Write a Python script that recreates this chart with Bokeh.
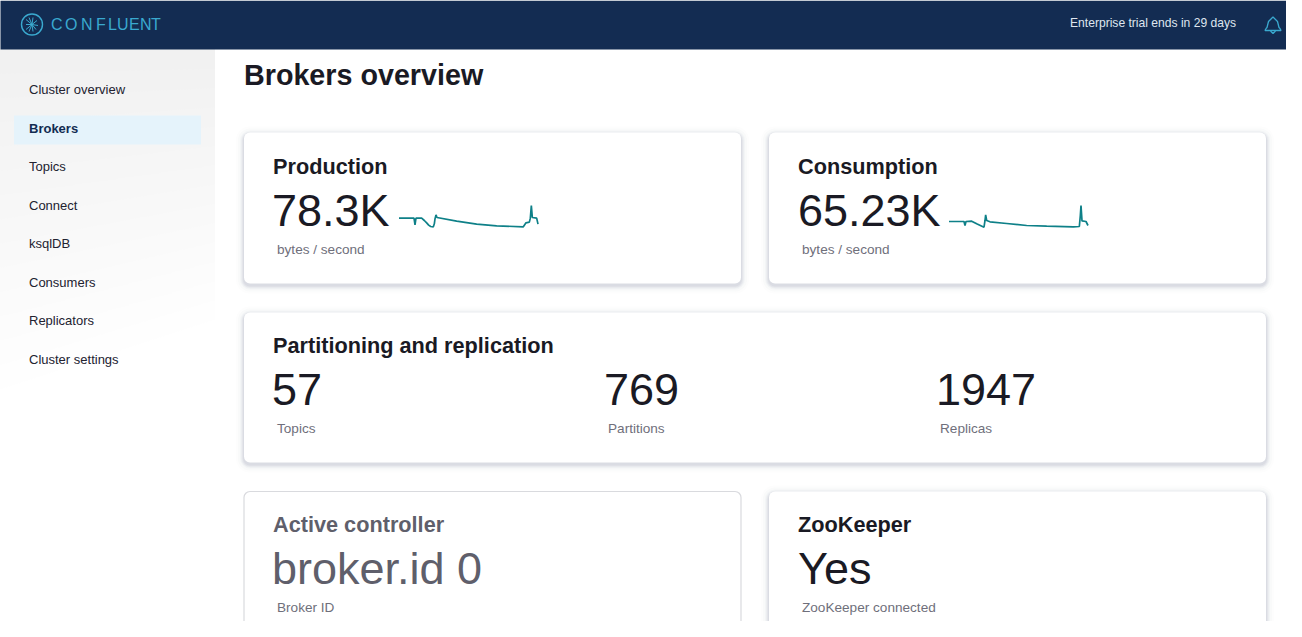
from bokeh.plotting import figure
from bokeh.models import Range1d
from bokeh.core.properties import value
from bokeh.embed import file_html
from bokeh.resources import INLINE

# ---- content / data ----
nav_items = ["Cluster overview", "Brokers", "Topics", "Connect", "ksqlDB", "Consumers", "Replicators", "Cluster settings"]
page_title = "Brokers overview"
trial_text = "Enterprise trial ends in 29 days"
brand_letters = list("CONFLUENT")

production_value = "78.3K"
consumption_value = "65.23K"
rate_unit = "bytes / second"
partition_values = ["57", "769", "1947"]
partition_labels = ["Topics", "Partitions", "Replicas"]

production_t = [27, 72, 75, 78, 95, 103, 110, 116, 122, 130, 133, 135, 138, 141, 200, 260, 320, 400, 408, 418, 421, 424, 427, 440, 444]
production_v = [52, 52, 32, 52, 52, 45, 38, 31, 27, 26, 35, 50, 62, 54, 43, 34, 29, 26, 38, 40, 52, 90, 54, 52, 34]
consumption_t = [27, 72, 75, 78, 95, 110, 132, 135, 137, 140, 150, 200, 260, 320, 400, 418, 421, 423, 426, 438, 444]
consumption_v = [42, 42, 30, 42, 43, 35, 25, 45, 62, 45, 41, 36, 30, 28, 26, 27, 60, 90, 44, 42, 30]

# ---- styling ----
W, H = 1286, 621
XS = 0.5
NAVY = "#132c52"
CYAN = "#3aa9cf"
INK = "#1a1a24"
MUTED = "#6f6f7b"
TEAL = "#0e8088"
SANS = "Liberation Sans"

p = figure(width=W, height=H, output_backend="svg", toolbar_location=None,
           x_range=Range1d(XS, W + XS), y_range=Range1d(H, 0), min_border=0,
           x_axis_type=None, y_axis_type=None, outline_line_color=None,
           background_fill_color="white", border_fill_color="white")
p.grid.visible = False


def text(x, y, s, size, color=INK, bold=False, align="left", font=SANS):
    p.text([x], [y], text=[s], text_font=value(font), text_font_size=f"{size}px", text_color=color,
           text_font_style="bold" if bold else "normal", text_align=align, text_baseline="alphabetic")


# sidebar fading to white
for i in range(14):
    f = i / 14
    p.patch([0, 215, 215, 0], [49, 49, 49 + 270 * (1 - f), 49 + 340 * (1 - f)],
            fill_color="#e2e4ea", fill_alpha=0.03, line_color=None)

# header
p.quad(left=0, right=1302, top=0, bottom=49, fill_color=NAVY, line_color=None)
p.circle([32], [24], radius=10.5, fill_color=None, line_color=CYAN, line_width=1.4)
for dx, dy in [(-6, -5), (-6, 0), (-6, 5), (-3, -7), (-3, 7), (5, -4), (6, 1), (4, 5), (1, -7), (1, 7)]:
    p.line([32, 32 + dx], [24, 24 + dy], line_color=CYAN, line_width=1)
brand_x = [51, 65, 81, 96, 108, 117, 129, 140, 151]
for ch, bx in zip(brand_letters, brand_x):
    text(bx, 24, ch, 16, color=CYAN)
text(1070, 22, trial_text, 12.1, color="#dfe6ef")
p.line([1266, 1267, 1268.5, 1273, 1277.5, 1279, 1280, 1281, 1265, 1266],
       [28, 27, 21, 16.5, 21, 27, 28, 30, 30, 28], line_color=CYAN, line_width=1.3)
p.line([1270.5, 1273, 1275.5], [30.5, 33, 30.5], line_color=CYAN, line_width=1.3)

# navigation
nav_y = [89, 127.5, 165.5, 204.5, 242.5, 281.5, 319.5, 358.5]
p.quad(left=14, right=201, top=115, bottom=144, fill_color="#e5f3fb", line_color=None)
for name, y in zip(nav_items, nav_y):
    sel = name == "Brokers"
    text(29, y, name, 13, color=NAVY if sel else "#222230", bold=sel)

# title
text(244, 74, page_title, 28.7, bold=True)


# cards
def card(l, r, t, b, shadow=True):
    if shadow:
        for g, a in [(8, .012), (6, .02), (4, .03), (3, .04), (2, .05), (1, .06)]:
            p.quad(left=l - g, right=r + g, top=t - g + 2, bottom=b + g + 2, fill_color="#48507a", fill_alpha=a,
                   line_color=None, border_radius=6 + g)
        p.quad(left=l, right=r, top=t, bottom=b, fill_color="white", line_color=None, border_radius=6)
    else:
        p.quad(left=l, right=r, top=t, bottom=b, fill_color="white", line_color="#d9dade", line_width=1.2,
               border_radius=6)


card(244, 741, 132, 283)
card(769, 1266, 132, 283)
card(244, 1266, 312, 462)
card(244, 741, 491, 680, shadow=False)
card(769, 1266, 491, 680)

text(273, 166, "Production", 21.7, bold=True)
text(272, 210, production_value, 45)
text(277, 249, rate_unit, 13.6, color=MUTED)
text(798, 166, "Consumption", 21.7, bold=True)
text(798, 210, consumption_value, 45)
text(802, 249, rate_unit, 13.6, color=MUTED)

text(273, 345, "Partitioning and replication", 21.7, bold=True)
for v, lab, vx, lx in zip(partition_values, partition_labels, [272, 604, 936], [277, 608, 940]):
    text(vx, 389, v, 45)
    text(lx, 428, lab, 13.6, color=MUTED)

text(273, 524, "Active controller", 21.7, bold=True, color="#5f5f6b")
text(272, 568, "broker.id 0", 45, color="#5f5f6b")
text(277, 607, "Broker ID", 13.6, color=MUTED)
text(798, 524, "ZooKeeper", 21.7, bold=True)
text(798, 568, "Yes", 45)
text(802, 607, "ZooKeeper connected", 13.6, color=MUTED)


# sparklines on their own data scales, mapped to a small window of the frame
def spark(name, ts, vs, left, px_per_t, base_y):
    t0 = ts[0] - (left - XS) * px_per_t
    p.extra_x_ranges[name + "_x"] = Range1d(t0, t0 + W * px_per_t)
    p.extra_y_ranges[name + "_y"] = Range1d(-(H - base_y) * 3, base_y * 3)
    p.line(ts, vs, x_range_name=name + "_x", y_range_name=name + "_y", line_color=TEAL, line_width=1.7)


spark("prod", production_t, production_v, 399, 3, 235)
spark("cons", consumption_t, consumption_v, 949, 3, 235)

open("out.html", "w").write(file_html(p, INLINE))
